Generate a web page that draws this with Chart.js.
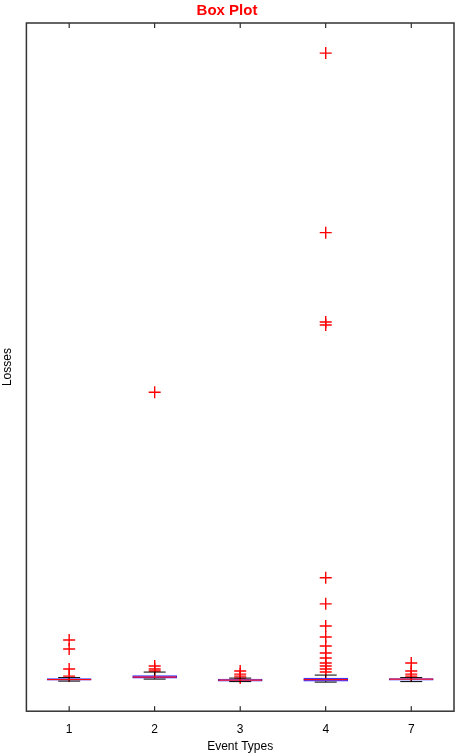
<!DOCTYPE html>
<html><head><meta charset="utf-8">
<script src="https://cdn.jsdelivr.net/npm/chart.js@4"></script>
<style>html,body{margin:0;padding:0;background:#fff}#w{width:474px;height:754px}</style>
</head><body><div id="w"><canvas id="c"></canvas></div>
<script>
const categories = ['1','2','3','4','7'];
const q1 = [31, 33, 30, 30, 31];
const q3 = [32.5, 35.5, 32, 33, 32.5];
const medians = [31.5, 34, 31, 31.5, 32];
const whiskerLow = [30, 32, 29.5, 29, 29.5];
const whiskerHigh = [33.5, 39, 33, 36, 33.5];
const outliers = [
  [71, 62, 42, 35],
  [318, 45, 42, 40],
  [40, 37, 35, 33],
  [656, 477, 388, 385, 133, 107, 85, 74, 65, 58, 53, 48, 45, 42, 39],
  [48, 40, 37, 35]
];
const outlierPoints = [];
outliers.forEach((arr, i) => arr.forEach(v => outlierPoints.push({x: categories[i], y: v})));

const boxPlugin = {
  id: 'boxExtras',
  afterDatasetsDraw(chart) {
    const ctx = chart.ctx, xs = chart.scales.x, ys = chart.scales.y, a = chart.chartArea;
    ctx.save();
    categories.forEach((c, i) => {
      const x = xs.getPixelForValue(i);
      ctx.strokeStyle = '#000'; ctx.lineWidth = 1;
      ctx.beginPath();
      ctx.moveTo(x, ys.getPixelForValue(whiskerLow[i])); ctx.lineTo(x, ys.getPixelForValue(q1[i]));
      ctx.moveTo(x, ys.getPixelForValue(q3[i])); ctx.lineTo(x, ys.getPixelForValue(whiskerHigh[i]));
      ctx.moveTo(x - 11, ys.getPixelForValue(whiskerLow[i])); ctx.lineTo(x + 11, ys.getPixelForValue(whiskerLow[i]));
      ctx.moveTo(x - 11, ys.getPixelForValue(whiskerHigh[i])); ctx.lineTo(x + 11, ys.getPixelForValue(whiskerHigh[i]));
      ctx.stroke();
      ctx.strokeStyle = '#ff0000'; ctx.lineWidth = 1;
      ctx.beginPath();
      ctx.moveTo(x - 22, ys.getPixelForValue(medians[i])); ctx.lineTo(x + 22, ys.getPixelForValue(medians[i]));
      ctx.stroke();
      ctx.strokeStyle = '#000';
      ctx.beginPath();
      ctx.moveTo(x, a.bottom); ctx.lineTo(x, a.bottom - 5);
      ctx.moveTo(x, a.top); ctx.lineTo(x, a.top + 5);
      ctx.stroke();
    });
    ctx.strokeStyle = '#333'; ctx.lineWidth = 1.5;
    ctx.strokeRect(a.left, a.top, a.right - a.left, a.bottom - a.top);
    ctx.restore();
  }
};

new Chart(document.getElementById('c'), {
  data: {
    labels: categories,
    datasets: [
      {type: 'bar', data: categories.map((c, i) => [q1[i], q3[i]]),
       backgroundColor: '#9b4fd6', borderColor: '#2b2bff', borderWidth: 1, borderSkipped: false,
       barThickness: 44, order: 2},
      {type: 'scatter', data: outlierPoints, pointStyle: 'cross', radius: 6, borderColor: '#ff0000',
       borderWidth: 1.4, backgroundColor: '#ff0000', order: 1}
    ]
  },
  options: {
    responsive: true, maintainAspectRatio: false, animation: false,
    layout: {padding: {left: 0, right: 20, top: 0, bottom: 0}},
    plugins: {
      legend: {display: false}, tooltip: {enabled: false},
      title: {display: true, text: 'Box Plot', color: '#ff0000', font: {family: 'Liberation Sans', size: 15, weight: 'bold'}, padding: {top: 2, bottom: 3}}
    },
    scales: {
      x: {type: 'category', offset: true, grid: {display: false}, border: {display: false},
          ticks: {color: '#000', font: {family: 'Liberation Sans', size: 12}, padding: 3},
          title: {display: true, text: 'Event Types', color: '#000', font: {family: 'Liberation Sans', size: 12}, padding: {top: 0, bottom: 0}}},
      y: {min: 0, max: 686, grid: {display: false}, border: {display: false},
          ticks: {display: false},
          title: {display: true, text: 'Losses', color: '#000', font: {family: 'Liberation Sans', size: 12}, padding: {top: 0, bottom: 4}}}
    }
  },
  plugins: [boxPlugin]
});
</script></body></html>
